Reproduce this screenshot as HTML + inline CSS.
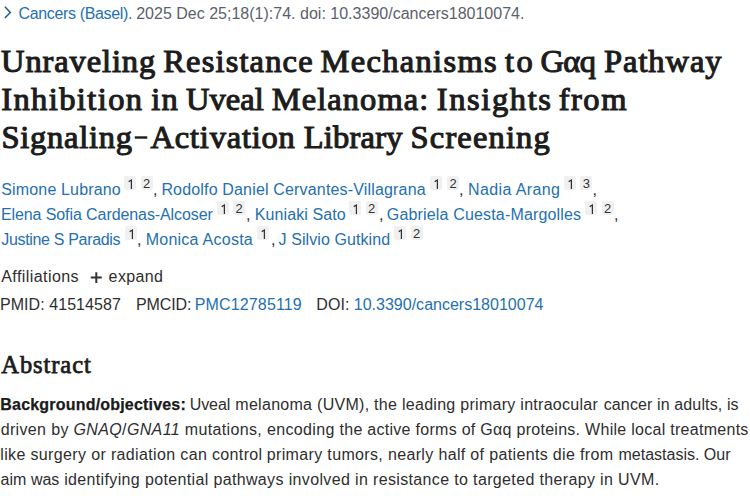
<!DOCTYPE html>
<html><head><meta charset="utf-8">
<style>
html,body{margin:0;padding:0;background:#fff;width:750px;height:500px;overflow:hidden;}
body{font-family:'Liberation Sans',sans-serif;color:#2e2e2e;font-size:16px;position:relative;}
.t{position:absolute;white-space:nowrap;line-height:20px;}
.sb{position:absolute;width:12px;height:14.4px;background:#f0f0f0;color:#333;border-radius:2px;font-size:13px;line-height:16.5px;text-align:center;}
.cm{color:#2e2e2e;}
</style></head><body>
<svg style="position:absolute;left:0;top:0" width="20" height="25" viewBox="0 0 20 25"><path d="M4.9 6.7 L10.3 12.4 L4.9 18.1" fill="none" stroke="#1d5c94" stroke-width="1.5"/></svg>
<svg style="position:absolute;left:0;top:0" width="750" height="500" viewBox="0 0 750 500"><path d="M96.3 272.2 V283 M90.8 277.6 H101.8" stroke="#333" stroke-width="2" fill="none"/><rect x="134.75" y="136.3" width="12.5" height="2.4" fill="#1c1c1c"/></svg>
<div class="t" style="left:18.49px;top:4.00px;letter-spacing:-0.345px;color:#2470b0;">Cancers (Basel).</div>
<div class="t" style="left:136.20px;top:4.00px;letter-spacing:0.008px;color:#5b616b;">2025 Dec 25;18(1):74. doi: 10.3390/cancers18010074.</div>
<div class="t" style="left:1.07px;top:40.50px;letter-spacing:0.878px;color:#1c1c1c;font-family:'Liberation Serif',serif;font-size:32.5px;line-height:40px;-webkit-text-stroke:1.1px #1c1c1c;">Unraveling</div>
<div class="t" style="left:163.31px;top:40.50px;letter-spacing:1.142px;color:#1c1c1c;font-family:'Liberation Serif',serif;font-size:32.5px;line-height:40px;-webkit-text-stroke:1.1px #1c1c1c;">Resistance</div>
<div class="t" style="left:320.61px;top:40.50px;letter-spacing:1.304px;color:#1c1c1c;font-family:'Liberation Serif',serif;font-size:32.5px;line-height:40px;-webkit-text-stroke:1.1px #1c1c1c;">Mechanisms</div>
<div class="t" style="left:505.03px;top:40.50px;letter-spacing:2.376px;color:#1c1c1c;font-family:'Liberation Serif',serif;font-size:32.5px;line-height:40px;-webkit-text-stroke:1.1px #1c1c1c;">to</div>
<div class="t" style="left:540.42px;top:40.50px;letter-spacing:-0.564px;color:#1c1c1c;font-family:'Liberation Serif',serif;font-size:32.5px;line-height:40px;-webkit-text-stroke:1.1px #1c1c1c;">G&alpha;q</div>
<div class="t" style="left:604.01px;top:40.50px;letter-spacing:0.940px;color:#1c1c1c;font-family:'Liberation Serif',serif;font-size:32.5px;line-height:40px;-webkit-text-stroke:1.1px #1c1c1c;">Pathway</div>
<div class="t" style="left:1.18px;top:78.50px;letter-spacing:1.408px;color:#1c1c1c;font-family:'Liberation Serif',serif;font-size:32.5px;line-height:40px;-webkit-text-stroke:1.1px #1c1c1c;">Inhibition</div>
<div class="t" style="left:151.37px;top:78.50px;letter-spacing:0.995px;color:#1c1c1c;font-family:'Liberation Serif',serif;font-size:32.5px;line-height:40px;-webkit-text-stroke:1.1px #1c1c1c;">in</div>
<div class="t" style="left:185.97px;top:78.50px;letter-spacing:0.058px;color:#1c1c1c;font-family:'Liberation Serif',serif;font-size:32.5px;line-height:40px;-webkit-text-stroke:1.1px #1c1c1c;">Uveal</div>
<div class="t" style="left:271.71px;top:78.50px;letter-spacing:1.070px;color:#1c1c1c;font-family:'Liberation Serif',serif;font-size:32.5px;line-height:40px;-webkit-text-stroke:1.1px #1c1c1c;">Melanoma:</div>
<div class="t" style="left:436.78px;top:78.50px;letter-spacing:1.617px;color:#1c1c1c;font-family:'Liberation Serif',serif;font-size:32.5px;line-height:40px;-webkit-text-stroke:1.1px #1c1c1c;">Insights</div>
<div class="t" style="left:558.65px;top:78.50px;letter-spacing:1.544px;color:#1c1c1c;font-family:'Liberation Serif',serif;font-size:32.5px;line-height:40px;-webkit-text-stroke:1.1px #1c1c1c;">from</div>
<div class="t" style="left:1.38px;top:116.50px;letter-spacing:0.763px;color:#1c1c1c;font-family:'Liberation Serif',serif;font-size:32.5px;line-height:40px;-webkit-text-stroke:1.1px #1c1c1c;">Signaling</div>
<div class="t" style="left:150.53px;top:116.50px;letter-spacing:0.791px;color:#1c1c1c;font-family:'Liberation Serif',serif;font-size:32.5px;line-height:40px;-webkit-text-stroke:1.1px #1c1c1c;">Activation</div>
<div class="t" style="left:303.81px;top:116.50px;letter-spacing:0.202px;color:#1c1c1c;font-family:'Liberation Serif',serif;font-size:32.5px;line-height:40px;-webkit-text-stroke:1.1px #1c1c1c;">Library</div>
<div class="t" style="left:410.58px;top:116.50px;letter-spacing:1.155px;color:#1c1c1c;font-family:'Liberation Serif',serif;font-size:32.5px;line-height:40px;-webkit-text-stroke:1.1px #1c1c1c;">Screening</div>
<div class="t" style="left:1.27px;top:180.00px;letter-spacing:0.153px;color:#2470b0;">Simone Lubrano</div>
<div class="t" style="left:161.39px;top:180.00px;letter-spacing:0.168px;color:#2470b0;">Rodolfo Daniel Cervantes-Villagrana</div>
<div class="t" style="left:467.99px;top:180.00px;letter-spacing:0.390px;color:#2470b0;">Nadia Arang</div>
<div class="t" style="left:0.89px;top:205.00px;letter-spacing:-0.087px;color:#2470b0;">Elena Sofia Cardenas-Alcoser</div>
<div class="t" style="left:254.69px;top:205.00px;letter-spacing:0.104px;color:#2470b0;">Kuniaki Sato</div>
<div class="t" style="left:386.80px;top:205.00px;letter-spacing:0.166px;color:#2470b0;">Gabriela Cuesta-Margolles</div>
<div class="t" style="left:1.25px;top:230.00px;letter-spacing:-0.324px;color:#2470b0;">Justine S Paradis</div>
<div class="t" style="left:145.69px;top:230.00px;letter-spacing:0.248px;color:#2470b0;">Monica Acosta</div>
<div class="t" style="left:278.55px;top:230.00px;letter-spacing:0.081px;color:#2470b0;">J Silvio Gutkind</div>
<div class="t" style="left:1.27px;top:267.00px;letter-spacing:0.425px;color:#2e2e2e;">Affiliations</div>
<div class="t" style="left:108.62px;top:267.00px;letter-spacing:0.384px;color:#2e2e2e;">expand</div>
<div class="t" style="left:-0.01px;top:295.00px;letter-spacing:0.057px;color:#2e2e2e;">PMID: 41514587</div>
<div class="t" style="left:135.99px;top:295.00px;letter-spacing:-0.105px;color:#2e2e2e;">PMCID:</div>
<div class="t" style="left:194.69px;top:295.00px;letter-spacing:0.152px;color:#2470b0;">PMC12785119</div>
<div class="t" style="left:316.29px;top:295.00px;letter-spacing:0.094px;color:#2e2e2e;">DOI:</div>
<div class="t" style="left:353.78px;top:295.00px;letter-spacing:0.009px;color:#2470b0;">10.3390/cancers18010074</div>
<div class="t" style="left:1.34px;top:350.00px;letter-spacing:0.919px;color:#1c1c1c;font-family:'Liberation Serif',serif;font-size:24.5px;line-height:30px;-webkit-text-stroke:0.75px #1c1c1c;">Abstract</div>
<div class="t" style="left:0.35px;top:395.00px;letter-spacing:0.194px;color:#1a1a1a;font-weight:bold;-webkit-text-stroke:0.25px #1a1a1a;">Background/objectives:</div>
<div class="t" style="left:189.77px;top:395.00px;letter-spacing:-0.100px;color:#2e2e2e;">Uveal</div>
<div class="t" style="left:235.34px;top:395.00px;letter-spacing:0.284px;color:#2e2e2e;">melanoma (UVM), the leading primary intraocular</div>
<div class="t" style="left:603.72px;top:395.00px;letter-spacing:0.124px;color:#2e2e2e;">cancer in adults, is</div>
<div class="t" style="left:0.63px;top:420.00px;letter-spacing:0.354px;color:#2e2e2e;">driven by <i>GNAQ</i>/<i>GNA11</i> mutations, encoding the</div>
<div class="t" style="left:367.32px;top:420.00px;letter-spacing:0.281px;color:#2e2e2e;">active forms of G&alpha;q proteins. While local treatments</div>
<div class="t" style="left:0.22px;top:445.00px;letter-spacing:0.359px;color:#2e2e2e;">like surgery or radiation can control</div>
<div class="t" style="left:266.77px;top:445.00px;letter-spacing:0.349px;color:#2e2e2e;">primary tumors, nearly half of patients die from</div>
<div class="t" style="left:618.54px;top:445.00px;letter-spacing:-0.007px;color:#2e2e2e;">metastasis. Our</div>
<div class="t" style="left:0.62px;top:469.50px;letter-spacing:0.013px;color:#2e2e2e;">aim was</div>
<div class="t" style="left:64.13px;top:469.50px;letter-spacing:0.356px;color:#2e2e2e;">identifying potential pathways involved in resistance to targeted therapy in UVM.</div>
<div class="sb" style="left:124.0px;top:175.5px"><svg width="12" height="15" viewBox="0 0 12 15" style="display:block"><path d="M4.7 5.6 L7.4 4.0 V12.9" fill="none" stroke="#333" stroke-width="1.25"/></svg></div>
<div class="sb" style="left:140.7px;top:175.5px">2</div>
<div class="sb" style="left:429.6px;top:175.5px"><svg width="12" height="15" viewBox="0 0 12 15" style="display:block"><path d="M4.7 5.6 L7.4 4.0 V12.9" fill="none" stroke="#333" stroke-width="1.25"/></svg></div>
<div class="sb" style="left:447.0px;top:175.5px">2</div>
<div class="sb" style="left:563.5px;top:175.5px"><svg width="12" height="15" viewBox="0 0 12 15" style="display:block"><path d="M4.7 5.6 L7.4 4.0 V12.9" fill="none" stroke="#333" stroke-width="1.25"/></svg></div>
<div class="sb" style="left:580.3px;top:175.5px">3</div>
<div class="sb" style="left:217.0px;top:200.5px"><svg width="12" height="15" viewBox="0 0 12 15" style="display:block"><path d="M4.7 5.6 L7.4 4.0 V12.9" fill="none" stroke="#333" stroke-width="1.25"/></svg></div>
<div class="sb" style="left:233.0px;top:200.5px">2</div>
<div class="sb" style="left:349.0px;top:200.5px"><svg width="12" height="15" viewBox="0 0 12 15" style="display:block"><path d="M4.7 5.6 L7.4 4.0 V12.9" fill="none" stroke="#333" stroke-width="1.25"/></svg></div>
<div class="sb" style="left:365.6px;top:200.5px">2</div>
<div class="sb" style="left:584.8px;top:200.5px"><svg width="12" height="15" viewBox="0 0 12 15" style="display:block"><path d="M4.7 5.6 L7.4 4.0 V12.9" fill="none" stroke="#333" stroke-width="1.25"/></svg></div>
<div class="sb" style="left:601.6px;top:200.5px">2</div>
<div class="sb" style="left:125.0px;top:225.5px"><svg width="12" height="15" viewBox="0 0 12 15" style="display:block"><path d="M4.7 5.6 L7.4 4.0 V12.9" fill="none" stroke="#333" stroke-width="1.25"/></svg></div>
<div class="sb" style="left:257.2px;top:225.5px"><svg width="12" height="15" viewBox="0 0 12 15" style="display:block"><path d="M4.7 5.6 L7.4 4.0 V12.9" fill="none" stroke="#333" stroke-width="1.25"/></svg></div>
<div class="sb" style="left:393.9px;top:225.5px"><svg width="12" height="15" viewBox="0 0 12 15" style="display:block"><path d="M4.7 5.6 L7.4 4.0 V12.9" fill="none" stroke="#333" stroke-width="1.25"/></svg></div>
<div class="sb" style="left:410.7px;top:225.5px">2</div>
<div class="t cm" style="left:153.0px;top:179.5px">,</div>
<div class="t cm" style="left:459.0px;top:179.5px">,</div>
<div class="t cm" style="left:592.4px;top:179.5px">,</div>
<div class="t cm" style="left:246.0px;top:204.5px">,</div>
<div class="t cm" style="left:379.0px;top:204.5px">,</div>
<div class="t cm" style="left:614.0px;top:204.5px">,</div>
<div class="t cm" style="left:137.0px;top:229.5px">,</div>
<div class="t cm" style="left:271.0px;top:229.5px">,</div>
</body></html>
